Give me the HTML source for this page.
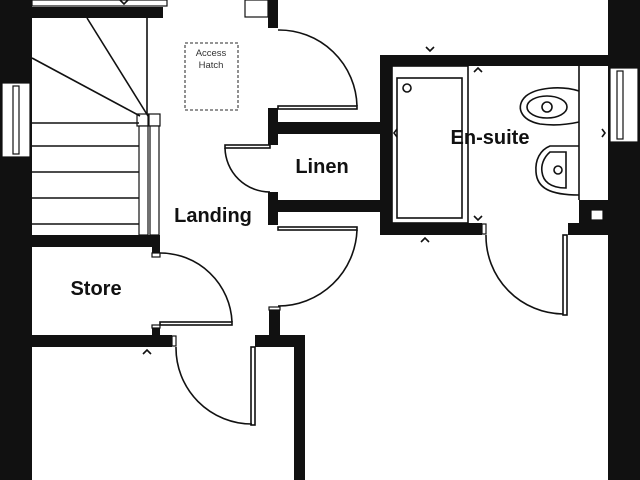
<!DOCTYPE html>
<html><head><style>body{margin:0;background:#fff}svg{display:block}text{font-family:"Liberation Sans",sans-serif}</style></head>
<body>
<svg width="640" height="480" viewBox="0 0 640 480" xmlns="http://www.w3.org/2000/svg">
<g fill="#111">
<rect x="0" y="0" width="32" height="480"/>
<rect x="32" y="7" width="131" height="11"/>
<rect x="268" y="0" width="10" height="28"/>
<rect x="32" y="235" width="128" height="12"/>
<rect x="152" y="247" width="8" height="6"/>
<rect x="32" y="335" width="140" height="12"/>
<rect x="152" y="325" width="8" height="10"/>
<rect x="255" y="335" width="50" height="12"/>
<rect x="294" y="347" width="11" height="133"/>
<rect x="269" y="307" width="11" height="28"/>
<rect x="268" y="108" width="10" height="37"/>
<rect x="278" y="122" width="102" height="12"/>
<rect x="268" y="192" width="10" height="33"/>
<rect x="278" y="200" width="102" height="12"/>
<rect x="380" y="55" width="12" height="180"/>
<rect x="380" y="55" width="230" height="11"/>
<rect x="380" y="223" width="102" height="12"/>
<rect x="608" y="0" width="32" height="480"/>
<rect x="579" y="200" width="29" height="23"/>
<rect x="568" y="223" width="42" height="12"/>
</g>
<g fill="#fff" stroke="#111" stroke-width="1.2">
<rect x="2" y="83" width="28" height="74"/>
<rect x="13" y="86" width="6" height="68"/>
<rect x="610" y="68" width="28" height="74"/>
<rect x="617" y="71" width="6" height="68"/>
<rect x="591" y="210" width="12" height="10"/>
<rect x="32" y="0" width="135" height="6"/>
<rect x="245" y="0" width="23" height="17"/>
<rect x="137" y="114" width="11" height="12"/>
<rect x="149" y="114" width="11" height="12"/>
<rect x="139" y="126" width="9" height="109"/>
<rect x="150" y="126" width="9" height="109"/>
<rect x="152" y="253" width="8" height="4"/>
<rect x="152" y="325" width="8" height="3"/>
<rect x="172" y="336" width="4" height="10"/>
<rect x="269" y="307" width="11" height="3"/>
<rect x="482" y="224" width="4" height="10"/>
</g>
<g fill="none" stroke="#111" stroke-width="1.6">
<line x1="147" y1="18" x2="147" y2="114"/>
<line x1="148" y1="116" x2="87" y2="18"/>
<line x1="140" y1="116" x2="32" y2="58"/>
<line x1="32" y1="123" x2="139" y2="123"/>
<line x1="32" y1="146" x2="139" y2="146"/>
<line x1="32" y1="172" x2="139" y2="172"/>
<line x1="32" y1="198" x2="139" y2="198"/>
<line x1="32" y1="224" x2="139" y2="224"/>
<rect x="160" y="322" width="72" height="3"/>
<path d="M160 253 A72 72 0 0 1 232 322"/>
<rect x="251" y="347" width="4" height="78"/>
<path d="M176 347 A76 76 0 0 0 252 424"/>
<rect x="278" y="106" width="79" height="3"/>
<path d="M278 30 A78 78 0 0 1 357 106"/>
<rect x="225" y="145" width="45" height="3"/>
<path d="M225 148 A45 45 0 0 0 270 192"/>
<rect x="278" y="227" width="79" height="3"/>
<path d="M357 230 A79 79 0 0 1 278 306"/>
<rect x="563" y="235" width="4" height="80"/>
<path d="M486 235 A78 78 0 0 0 563 314"/>
<rect x="392" y="66" width="76" height="157"/>
<rect x="397" y="78" width="65" height="140"/>
<circle cx="407" cy="88" r="4"/>
<line x1="579" y1="66" x2="579" y2="200"/>
<path d="M579 91 C560 85 536 88 526 96 C515 106 520 120 540 124 C555 126 570 124 579 122"/>
<ellipse cx="547" cy="107" rx="20" ry="11"/>
<circle cx="547" cy="107" r="5"/>
<path d="M579 146 L550 146 C540 150 535 160 536 172 C537 188 550 195 579 195"/>
<path d="M566 152 L550 152 C543 158 541 166 542 172 C543 181 550 188 566 188 Z"/>
<circle cx="558" cy="170" r="4"/>
</g>
<rect x="185" y="43" width="53" height="67" fill="none" stroke="#555" stroke-width="1.3" stroke-dasharray="3,2"/>
<text x="211" y="56" font-size="9.5" text-anchor="middle" fill="#333">Access</text>
<text x="211" y="68" font-size="9.5" text-anchor="middle" fill="#333">Hatch</text>
<g font-weight="bold" font-size="20" fill="#111" text-anchor="middle">
<text x="213" y="222">Landing</text>
<text x="322" y="173">Linen</text>
<text x="490" y="144">En-suite</text>
<text x="96" y="295">Store</text>
</g>
<g fill="none" stroke="#111" stroke-width="1.6">
<path d="M426 47 L430 51 L434 47"/>
<path d="M474 72 L478 68 L482 72"/>
<path d="M397 129 L394 133 L397 137"/>
<path d="M602 129 L605 133 L602 137"/>
<path d="M474 216 L478 220 L482 216"/>
<path d="M421 242 L425 238 L429 242"/>
<path d="M143 354 L147 350 L151 354"/>
<path d="M120 0 L124 4 L128 0"/>
</g>
</svg>
</body></html>
